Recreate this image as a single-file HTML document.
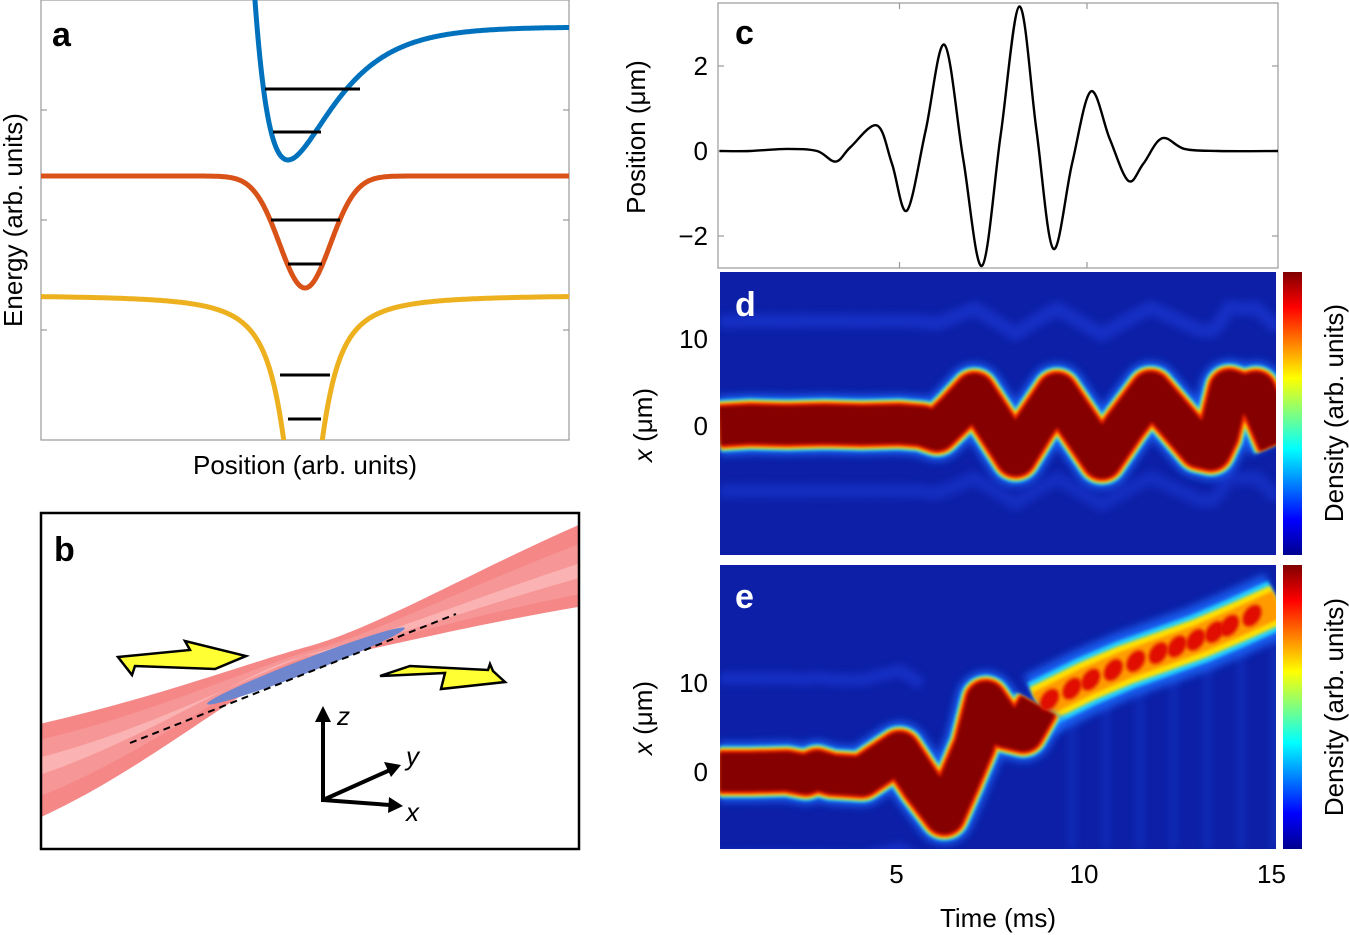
<!DOCTYPE html>
<html><head><meta charset="utf-8"><style>
html,body{margin:0;padding:0;background:#fff;overflow:hidden;width:1349px;height:935px;}
svg{display:block;font-family:"Liberation Sans",sans-serif;}
</style></head><body>
<svg id="fig" width="1349" height="935" viewBox="0 0 1349 935" xmlns="http://www.w3.org/2000/svg">
<defs>
<linearGradient id="jet" x1="0" y1="1" x2="0" y2="0">
<stop offset="0" stop-color="#00008f"/><stop offset="0.125" stop-color="#0000ff"/><stop offset="0.375" stop-color="#00ffff"/><stop offset="0.625" stop-color="#ffff00"/><stop offset="0.875" stop-color="#ff0000"/><stop offset="1" stop-color="#800000"/>
</linearGradient>
<filter id="bl1" filterUnits="userSpaceOnUse" x="0" y="0" width="1349" height="935"><feGaussianBlur stdDeviation="1.6"/></filter>
<filter id="bl4" filterUnits="userSpaceOnUse" x="0" y="0" width="1349" height="935"><feGaussianBlur stdDeviation="4"/></filter>
<clipPath id="clipA"><rect x="41" y="0" width="528" height="440"/></clipPath>
<clipPath id="clipC"><rect x="718" y="3" width="560" height="265"/></clipPath>
<clipPath id="clipD"><rect x="720" y="272" width="556" height="283"/></clipPath>
<clipPath id="clipE"><rect x="720" y="565" width="556" height="284"/></clipPath>
<clipPath id="clipB"><rect x="42" y="514" width="536" height="334"/></clipPath>
</defs>

<!-- Panel a -->
<g>
<rect x="41" y="0" width="528" height="440" fill="none" stroke="#9a9a9a" stroke-width="1.2"/>
<g stroke="#9a9a9a" stroke-width="1.2">
<line x1="41" y1="110" x2="47" y2="110"/><line x1="41" y1="220" x2="47" y2="220"/><line x1="41" y1="330" x2="47" y2="330"/>
<line x1="563" y1="110" x2="569" y2="110"/><line x1="563" y1="220" x2="569" y2="220"/><line x1="563" y1="330" x2="569" y2="330"/>
</g>
<g id="aCurves" clip-path="url(#clipA)"></g>
<text x="52" y="46" font-size="34" font-weight="bold">a</text>
<text x="305" y="474" font-size="26" text-anchor="middle">Position (arb. units)</text>
<text transform="translate(22,220) rotate(-90)" font-size="26" text-anchor="middle">Energy (arb. units)</text>
</g>

<!-- Panel b -->
<g>
<g clip-path="url(#clipB)">
<path d="M30,726 C150,700 250,662 310,646 C380,626 470,572 590,520 L590,605 C470,625 380,648 310,662 C250,676 150,770 30,822 Z" fill="#f47a7a" opacity="0.9"/>
<path d="M30,742 C150,715 250,668 310,651 C380,632 470,585 590,540 L590,592 C470,615 380,644 310,657 C250,670 150,755 30,800 Z" fill="#f79a9a" opacity="0.8"/>
<path d="M30,760 C150,730 250,675 310,654 C390,634 480,595 590,560 L590,575 C480,605 390,640 310,655 C250,666 150,740 30,778 Z" fill="#fbc4c4" opacity="0.6"/>
</g>
<ellipse cx="306" cy="666" rx="106" ry="7" transform="rotate(-21 306 666)" fill="#6f86cf"/>
<line x1="130" y1="743" x2="456" y2="614" stroke="#000" stroke-width="2" stroke-dasharray="7,5"/>
<polygon points="118,657 190,650 185,641 246,656 215,669 135,666 132,675" fill="#ffff33" stroke="#000" stroke-width="2.5"/>
<polygon points="380,676 445,673 441,689 505,682 493,671 490,664 488,670 410,666" fill="#ffff33" stroke="#000" stroke-width="2.5"/>
<g stroke="#000" stroke-width="4" fill="#000">
<line x1="323" y1="802" x2="323" y2="720"/><polygon points="315,722 331,722 323,706" stroke="none"/>
<line x1="323" y1="800" x2="390" y2="770"/><polygon points="384,762 391,777 401,765" stroke="none"/>
<line x1="323" y1="800" x2="390" y2="805"/><polygon points="389,797 388,813 403,806" stroke="none"/>
</g>
<text x="337" y="725" font-size="26" font-style="italic">z</text>
<text x="406" y="765" font-size="26" font-style="italic">y</text>
<text x="406" y="821" font-size="26" font-style="italic">x</text>
<rect x="41" y="513" width="538" height="336" fill="none" stroke="#000" stroke-width="2.5"/>
<text x="54" y="561" font-size="34" font-weight="bold">b</text>
</g>

<!-- Panel c -->
<g>
<rect x="718" y="3" width="560" height="265" fill="none" stroke="#9a9a9a" stroke-width="1.2"/>
<g id="cTicks" stroke="#9a9a9a" stroke-width="1.2"></g>
<g id="cLine" clip-path="url(#clipC)"></g>
<text x="735" y="44" font-size="34" font-weight="bold">c</text>
<text transform="translate(645,137) rotate(-90)" font-size="26" text-anchor="middle">Position (μm)</text>
</g>

<!-- Panel d -->
<g>
<rect x="720" y="272" width="556" height="283" fill="#0c1fa6"/>
<g id="dMap" clip-path="url(#clipD)"></g>
<text x="735" y="316" font-size="34" font-weight="bold" fill="#fff">d</text>
<rect x="1283" y="272" width="19" height="283" fill="url(#jet)"/>
<text transform="translate(1343,413) rotate(-90)" font-size="26" text-anchor="middle">Density (arb. units)</text>
<text transform="translate(652,425) rotate(-90)" font-size="26" text-anchor="middle"><tspan font-style="italic">x</tspan> (μm)</text>
</g>

<!-- Panel e -->
<g>
<rect x="720" y="565" width="556" height="284" fill="#0c1fa6"/>
<g id="eMap" clip-path="url(#clipE)"></g>
<text x="735" y="608" font-size="34" font-weight="bold" fill="#fff">e</text>
<rect x="1283" y="565" width="19" height="284" fill="url(#jet)"/>
<text transform="translate(1343,707) rotate(-90)" font-size="26" text-anchor="middle">Density (arb. units)</text>
<text transform="translate(652,718) rotate(-90)" font-size="26" text-anchor="middle"><tspan font-style="italic">x</tspan> (μm)</text>
<text x="998" y="927" font-size="26" text-anchor="middle">Time (ms)</text>
</g>
<g id="labels"></g>
</svg>
<script>
// ---- data ----
const cTimes = [0.2,1,2,2.8,3.3,3.7,4.4,4.8,5.2,5.7,6.2,6.7,7.2,7.7,8.2,8.65,9.1,9.6,10.1,10.6,11.1,11.5,12.0,12.6,13.5,15.1];
const cPos   = [0,0,0.05,0,-0.25,0.1,0.6,-0.3,-1.4,0.5,2.5,-0.2,-2.7,0.4,3.4,0.5,-2.3,-0.3,1.4,0.3,-0.7,-0.3,0.3,0.05,0,0];
const cTickVals = [2,0,-2];
const cTickLabels = ["2","0","\u22122"];
const dTimes = [0.2,1,2,3,4,5,5.6,6.0,6.5,7.0,7.5,8.1,8.6,9.2,9.8,10.4,11.0,11.7,12.3,13.0,13.3,13.5,13.8,14.2,14.5,15.1];
const dPos   = [0,0.2,0.1,0.2,0.1,0.2,0,-0.6,1.5,3.8,0.5,-3.5,0,3.8,0,-3.8,0,4,1,-2.5,-2.8,-1,4.2,3.6,4,-2];
const dTickVals = [10,0];
const eTimes = [0.2,1,2,2.5,2.8,3.2,4,5,5.6,6.2,6.6,7.0,7.3,7.8,8.3,8.7];
const ePos   = [0,0,0.1,-0.3,0.2,-0.3,-0.5,2.3,-1.5,-4.8,-1,3,8,5,4.5,7.5];
const eTimes2 = [8.7,10,11,12,13,14,15.1];
const ePos2   = [7.5,10.2,12,13.5,15,16.8,18.9];
const eBlobTimes = [9.0,9.6,10.1,10.7,11.3,11.9,12.4,12.9,13.4,13.8,14.4];
const eTickVals = [10,0];
const timeTicks = [5,10,15];

// ---- scales ----
const SVGNS = "http://www.w3.org/2000/svg";
const tx = t => 712 + 37.5*t;
const cy = v => 151 - 42.5*v;
const dy = v => 426 - 8.7*v;
const ey = v => 772 - 8.9*v;
function el(tag, attrs, parent){ const e=document.createElementNS(SVGNS,tag); for(const k in attrs) e.setAttribute(k,attrs[k]); parent.appendChild(e); return e; }
function linePath(ts, vs, fy){ return ts.map((t,i)=>(i?'L':'M')+tx(t).toFixed(1)+','+fy(vs[i]).toFixed(1)).join(''); }
function smoothPath(ts, vs, fy){
  const P = ts.map((t,i)=>[tx(t),fy(vs[i])]);
  let d='M'+P[0][0]+','+P[0][1];
  for(let i=0;i<P.length-1;i++){
    const p0=P[Math.max(0,i-1)],p1=P[i],p2=P[i+1],p3=P[Math.min(P.length-1,i+2)];
    const c1=[p1[0]+(p2[0]-p0[0])/6,p1[1]+(p2[1]-p0[1])/6];
    const c2=[p2[0]-(p3[0]-p1[0])/6,p2[1]-(p3[1]-p1[1])/6];
    d+='C'+c1[0].toFixed(1)+','+c1[1].toFixed(1)+' '+c2[0].toFixed(1)+','+c2[1].toFixed(1)+' '+p2[0].toFixed(1)+','+p2[1].toFixed(1);
  }
  return d;
}
function interp(ts, vs, t){ for(let i=0;i<ts.length-1;i++){ if(t>=ts[i]&&t<=ts[i+1]) return vs[i]+(vs[i+1]-vs[i])*(t-ts[i])/(ts[i+1]-ts[i]); } return vs[vs.length-1]; }

// ---- panel a curves ----
const aG = document.getElementById('aCurves');
function curve(f){ let d=''; for(let x=20;x<=590;x+=1){ const y=f(x); if(y===null) continue; d+=(d?'L':'M')+x+','+y.toFixed(1);} return d; }
const blue = el('path',{d:curve(x=>{const y=160-133*Math.pow(1-Math.exp(-0.0224*(x-288)),2); return y<-20?null:y;}),fill:'none',stroke:'#0072bd','stroke-width':5},aG);


const orange = el('path',{d:curve(x=>176+112*Math.exp(-Math.pow((x-305)/36,2))),fill:'none',stroke:'#d95319','stroke-width':5},aG);


const yellow = el('path',{d:curve(x=>{const dd=x-303; return Math.min(470,295+280*400/(dd*dd+400));}),fill:'none',stroke:'#edb120','stroke-width':5},aG);


const levels=[[265,360,89],[273,321,132],[271,340,220],[288,322,264],[280,330,375],[288,321,419]];
levels.forEach(l=>{ const ln=el('line',{x1:l[0],x2:l[1],y1:l[2],y2:l[2],stroke:'#000','stroke-width':3},aG);
  
   });

// ---- panel c ----
const cT = document.getElementById('cTicks');
const lab=document.getElementById('labels');
cTickVals.forEach((v,i)=>{
  el('line',{x1:718,x2:724,y1:cy(v),y2:cy(v)},cT); el('line',{x1:1272,x2:1278,y1:cy(v),y2:cy(v)},cT);
  const t=el('text',{x:708,y:cy(v)+9,'font-size':26,'text-anchor':'end',fill:'#000'},lab);
  t.textContent=cTickLabels[i];
  
  
});
[5,10].forEach(t=>{ el('line',{x1:tx(t),x2:tx(t),y1:3,y2:9},cT); el('line',{x1:tx(t),x2:tx(t),y1:262,y2:268},cT); });
const cl = el('path',{d:smoothPath(cTimes,cPos,cy),fill:'none',stroke:'#000','stroke-width':2.4,'stroke-linejoin':'round'},document.getElementById('cLine'));



// ---- heatmap bands ----
function band(g, ts, vs, fy, layers, name){
  const d = linePath(ts, vs, fy);
  layers.forEach(L=>{
    const p=el('path',{d:d,fill:'none',stroke:L[0],'stroke-width':L[1],'stroke-linejoin':'round','stroke-linecap':'butt',filter:L[2]||'url(#bl1)',opacity:L[3]||1},g);
    
    
  });
}
const mainLayers=[['#1a6cff',60,'url(#bl4)',0.8],['#20d0ff',52],['#ffe000',48],['#ff2a00',44],['#850000',39]];
const dG=document.getElementById('dMap');
band(dG,dTimes,dPos.map(v=>0.4*v+12),dy,[['#2a50ff',14,'url(#bl4)',0.35]],'sideband-upper');
band(dG,dTimes,dPos.map(v=>0.4*v-7.5),dy,[['#2a50ff',14,'url(#bl4)',0.3]],'sideband-lower');
band(dG,dTimes,dPos,dy,mainLayers,'density-band-d');

const eG=document.getElementById('eMap');
band(eG,eTimes.slice(0,9),ePos.slice(0,9).map(v=>0.4*v+10.5),ey,[['#2a50ff',12,'url(#bl4)',0.35]],'sideband-upper-e');
band(eG,eTimes.slice(0,9),ePos.slice(0,9).map(v=>0.4*v-9.5),ey,[['#2a50ff',12,'url(#bl4)',0.35]],'sideband-lower-e');
for(let t=9.5;t<15;t+=0.9){ const yy=ey(interp(eTimes2,ePos2,t))+25; const r=el('rect',{x:tx(t),y:yy,width:8,height:849-yy,fill:'#2060ff',opacity:0.2,filter:'url(#bl4)'},eG);
  
   }
band(eG,eTimes2,ePos2,ey,[['#1a6cff',66,'url(#bl4)',0.8],['#20d0ff',50],['#ffe000',40],['#ff9a00',28]],'density-band-e-drift');
band(eG,eTimes,ePos,ey,mainLayers,'density-band-e');
eBlobTimes.forEach(t=>{ const Y=ey(interp(eTimes2,ePos2,t)); const b=el('ellipse',{cx:tx(t),cy:Y,rx:8,ry:12,fill:'#e01000',filter:'url(#bl1)',transform:'rotate(35 '+tx(t)+' '+Y+')'},eG);
  
   });

// ---- tick labels d/e/time ----
dTickVals.forEach(v=>{ const t=el('text',{x:708,y:dy(v)+9,'font-size':26,'text-anchor':'end'},lab); t.textContent=String(v);
  
   });
eTickVals.forEach(v=>{ const t=el('text',{x:708,y:ey(v)+9,'font-size':26,'text-anchor':'end'},lab); t.textContent=String(v);
  
   });
timeTicks.forEach(v=>{ const t=el('text',{x:tx(v)-3,y:883,'font-size':26,'text-anchor':'middle'},lab); t.textContent=String(v);
  
   });
</script>
</body></html>
